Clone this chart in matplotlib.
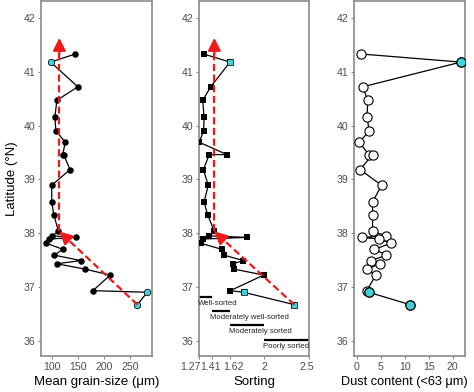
import matplotlib
matplotlib.use("Agg")
import matplotlib.pyplot as plt
from matplotlib.transforms import ScaledTranslation

plt.rcParams["font.family"] = ["Liberation Sans", "DejaVu Sans"]

# sample latitudes, north to south
latitude = [41.33, 41.18, 40.72, 40.47, 40.16, 39.90, 39.69, 39.46, 39.46, 39.18,
            38.89, 38.58, 38.34, 38.03, 37.95, 37.92, 37.89, 37.81, 37.70, 37.59,
            37.49, 37.43, 37.33, 37.22, 36.93, 36.90, 36.67]
grain_size = [145, 98, 150, 110, 106, 108, 126, 121, 123, 135,
              100, 100, 104, 113, 101, 147, 95, 90, 121, 105,
              156, 110, 164, 212, 179, 283, 264]
sorting = [1.319, 1.615, 1.398, 1.308, 1.323, 1.319, 1.268, 1.581, 1.382, 1.315,
           1.371, 1.323, 1.364, 1.439, 1.382, 1.806, 1.308, 1.289, 1.520, 1.547,
           1.764, 1.652, 1.663, 1.994, 1.618, 1.769, 2.337]
dust = [0.97, 21.7, 1.25, 2.3, 2.15, 2.6, 0.55, 2.5, 3.3, 0.7,
        5.2, 3.3, 3.3, 3.3, 6.2, 1.2, 4.7, 7.1, 3.7, 6.2,
        3.0, 4.9, 2.1, 4.0, 2.1, 2.5, 11.1]
highlight = [1, 25, 26]   # cyan samples
dust_highlight = [1, 25, 26]

# red trend arrows: (x points, lat points)
grain_trend = ([264, 114.6, 114.6], [36.67, 38.03, 41.63])
sort_trend = ([2.337, 1.439, 1.439], [36.67, 38.03, 41.63])

# sorting classes
sort_classes = ["Well-sorted", "Moderately well-sorted", "Moderately sorted", "Poorly sorted"]
sort_lo = [1.27, 1.41, 1.62, 2.0]
sort_hi = [1.41, 1.62, 2.0, 2.6]
sort_bar_y = [36.82, 36.555, 36.29, 36.02]

sort_ticks = [1.27, 1.41, 1.62, 2, 2.5]
sort_ticklabels = ["1.27", "1.41", "1.62", "2", "2.5"]
lat_ticks = [36, 37, 38, 39, 40, 41, 42]

CYAN = "#3ED3DA"
RED = "#F01818"
FRAME = "#8A8A8A"
TICKC = "#4D4D4D"

fig = plt.figure(figsize=(4.74, 3.92), dpi=100)
W, H = 474.0, 392.0
bot, hgt = 36 / H, 355 / H
ax1 = fig.add_axes([41 / W, bot, 111 / W, hgt])
ax2 = fig.add_axes([198.7 / W, bot, 110.6 / W, hgt])
ax3 = fig.add_axes([353.7 / W, bot, 111 / W, hgt])

for ax in (ax1, ax2, ax3):
    ax.set_ylim(35.715, 42.316)
    ax.set_yticks(lat_ticks)
    for s in ax.spines.values():
        s.set_color(FRAME)
        s.set_linewidth(1.2)
    ax.tick_params(axis="both", colors=FRAME, labelcolor=TICKC, labelsize=7.6,
                   length=2.5, width=0.8, pad=1.5)


def draw_trend(ax, xs, ys):
    ax.plot(xs[:2], ys[:2], color=RED, lw=1.6, ls=(0, (3.2, 1.6)), zorder=4)
    ax.plot(xs[1:], [ys[1], ys[2] - 0.15], color=RED, lw=1.6, ls=(0, (3.2, 1.6)), zorder=4)
    hp = dict(arrowstyle="-|>,head_length=0.75,head_width=0.38", color=RED, lw=1.6,
              shrinkA=0, shrinkB=0)
    ax.annotate("", xy=(xs[1], ys[1]),
                xytext=(xs[1] + (xs[0] - xs[1]) * 0.12, ys[1] + (ys[0] - ys[1]) * 0.12),
                arrowprops=hp, zorder=5)
    ax.annotate("", xy=(xs[2], ys[2]), xytext=(xs[2], ys[2] - 0.3),
                arrowprops=hp, zorder=5)


# panel 1: mean grain size
ax1.plot(grain_size, latitude, color="black", lw=0.9, zorder=2)
ax1.scatter(grain_size, latitude, s=22, c="black", zorder=3, linewidths=0)
ax1.scatter([grain_size[i] for i in highlight], [latitude[i] for i in highlight],
            s=22, c=CYAN, edgecolors="black", linewidths=0.5, zorder=3)
draw_trend(ax1, *grain_trend)
ax1.set_xlim(79.5, 292)
ax1.set_xticks([100, 150, 200, 250])
ax1.set_xlabel("Mean grain-size (μm)", fontsize=9.5, labelpad=3)
ax1.set_ylabel("Latitude (°N)", fontsize=9.5, labelpad=4)

# panel 2: sorting
ax2.plot(sorting, latitude, color="black", lw=0.9, zorder=2)
ax2.scatter(sorting, latitude, s=24, c="black", marker="s", zorder=3, linewidths=0)
ax2.scatter([sorting[i] for i in highlight], [latitude[i] for i in highlight],
            s=24, c=CYAN, marker="s", edgecolors="black", linewidths=0.5, zorder=3)
draw_trend(ax2, *sort_trend)
for name, lo, hi, yb in zip(sort_classes, sort_lo, sort_hi, sort_bar_y):
    ax2.plot([lo, hi], [yb, yb], color="black", lw=1.6, solid_capstyle="butt", zorder=2)
    ax2.text(lo - 0.015, yb - 0.06, name, fontsize=5.6, ha="left", va="top", color="#222222")
ax2.set_xlim(1.263, 2.506)
ax2.set_xticks(sort_ticks)
ax2.set_xticklabels(sort_ticklabels)
shifts = [-9, -1, 3, 0, -2]
for lab, dx in zip(ax2.get_xticklabels(), shifts):
    lab.set_transform(lab.get_transform() + ScaledTranslation(dx / 100, 0, fig.dpi_scale_trans))
ax2.set_xlabel("Sorting", fontsize=9.5, labelpad=3)

# panel 3: dust content
ax3.plot(dust, latitude, color="black", lw=0.9, zorder=2)
ax3.scatter(dust, latitude, s=44, c="white", edgecolors="black", linewidths=0.8, zorder=3)
ax3.scatter([dust[i] for i in dust_highlight], [latitude[i] for i in dust_highlight],
            s=44, c=CYAN, edgecolors="black", linewidths=0.8, zorder=3)
ax3.set_xlim(-0.625, 22.5)
ax3.set_xticks([0, 5, 10, 15, 20])
ax3.set_xlabel("Dust content (<63 μm)", fontsize=9.2, labelpad=3)
ax3.xaxis.label.set_x(0.46)

fig.savefig("out.png", dpi=100)
